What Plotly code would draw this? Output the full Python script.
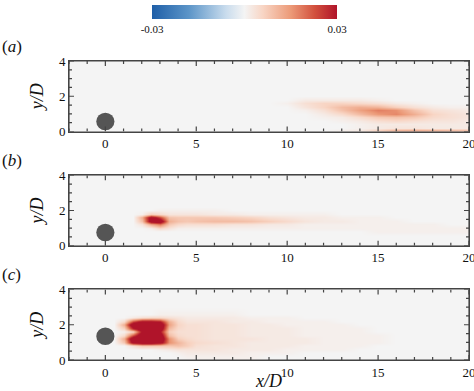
import plotly.graph_objects as go

# grid coordinates (x/D, y/D)
x_grid = [-2, -1, 0, 0.5, 1, 1.5, 2, 2.5, 3, 3.5, 4, 4.5, 5, 6, 7, 8, 9, 10,
          11, 12, 13, 14, 15, 16, 17, 18, 19, 20]
y_grid = [0, 0.2, 0.4, 0.6, 0.8, 1.0, 1.2, 1.4, 1.6, 1.8, 2.0, 2.2, 2.4, 2.6,
          3.0, 3.5, 4.0]

# field values in units of 1e-3 (rows = y_grid, cols = x_grid)
#           -2 -1  0 .5  1 1.5 2 2.5 3 3.5 4 4.5 5  6  7  8  9 10 11 12 13 14 15 16 17 18 19 20
field_a = [
    [0, 0, 0, 0, 0, 0, 0, 0, 0, 0, 0, 0, 0, 0, 0, 0, 0, 0, 0, 0, 2, 3, 10, 18, 20, 19, 17, 15],
    [0, 0, 0, 0, 0, 0, 0, 0, 0, 0, 0, 0, 0, 0, 0, 0, 0, 0, 0, 0, 0, 1, 2, 3, 3, 2, 2, 2],
    [0, 0, 0, 0, 0, 0, 0, 0, 0, 0, 0, 0, 0, 0, 0, 0, 0, 0, 0, 0, 0, 1, 2, 2, 2, 2, 2, 2],
    [0, 0, 0, 0, 0, 0, 0, 0, 0, 0, 0, 0, 0, 0, 0, 0, 0, 0, 0, 0, 1, 2, 4, 5, 4, 3, 3, 2],
    [0, 0, 0, 0, 0, 0, 0, 0, 0, 0, 0, 0, 0, 0, 0, 0, 0, 0, 0, 1, 2, 5, 8, 9, 8, 5, 4, 3],
    [0, 0, 0, 0, 0, 0, 0, 0, 0, 0, 0, 0, 0, 0, 0, 0, 0, 0, 0, 2, 5, 10, 15, 17, 12, 6, 4, 3],
    [0, 0, 0, 0, 0, 0, 0, 0, 0, 0, 0, 0, 0, 0, 0, 0, 0, 0, 1, 4, 9, 14, 18, 16, 9, 4, 3, 2],
    [0, 0, 0, 0, 0, 0, 0, 0, 0, 0, 0, 0, 0, 0, 0, 0, 0, 0, 3, 6, 10, 12, 11, 7, 4, 2, 1, 1],
    [0, 0, 0, 0, 0, 0, 0, 0, 0, 0, 0, 0, 0, 0, 0, 0, 0, 1, 4, 6, 6, 5, 4, 2, 1, 0, 0, 0],
    [0, 0, 0, 0, 0, 0, 0, 0, 0, 0, 0, 0, 0, 0, 0, 0, 0, 0, 2, 2, 2, 2, 1, 0, 0, 0, 0, 0],
    [0, 0, 0, 0, 0, 0, 0, 0, 0, 0, 0, 0, 0, 0, 0, 0, 0, 0, 0, 0, 0, 0, 0, 0, 0, 0, 0, 0],
    [0, 0, 0, 0, 0, 0, 0, 0, 0, 0, 0, 0, 0, 0, 0, 0, 0, 0, 0, 0, 0, 0, 0, 0, 0, 0, 0, 0],
    [0, 0, 0, 0, 0, 0, 0, 0, 0, 0, 0, 0, 0, 0, 0, 0, 0, 0, 0, 0, 0, 0, 0, 0, 0, 0, 0, 0],
    [0, 0, 0, 0, 0, 0, 0, 0, 0, 0, 0, 0, 0, 0, 0, 0, 0, 0, 0, 0, 0, 0, 0, 0, 0, 0, 0, 0],
    [0, 0, 0, 0, 0, 0, 0, 0, 0, 0, 0, 0, 0, 0, 0, 0, 0, 0, 0, 0, 0, 0, 0, 0, 0, 0, 0, 0],
    [0, 0, 0, 0, 0, 0, 0, 0, 0, 0, 0, 0, 0, 0, 0, 0, 0, 0, 0, 0, 0, 0, 0, 0, 0, 0, 0, 0],
    [0, 0, 0, 0, 0, 0, 0, 0, 0, 0, 0, 0, 0, 0, 0, 0, 0, 0, 0, 0, 0, 0, 0, 0, 0, 0, 0, 0],
]

field_b = [
    [0, 0, 0, 0, 0, 0, 0, 0, 0, 0, 0, 0, 0, 0, 0, 0, 0, 0, 0, 0, 0, 0, 0, 0, 0, 0, 0, 0],
    [0, 0, 0, 0, 0, 0, 0, 0, 0, 0, 0, 0, 0, 0, 0, 0, 0, 0, 0, 0, 0, 0, 0, 0, 0, 0, 0, 0],
    [0, 0, 0, 0, 0, 0, 0, 0, 0, 0, 0, 0, 0, 0, 0, 0, 0, 0, 0, 0, 0, 0, 0, 0, 0, 0, 0, 0],
    [0, 0, 0, 0, 0, 0, 0, 0, 0, 0, 0, 0, 0, 0, 0, 0, 0, 0, 0, 0, 0, 0, 0, 0, 0, 0, 0, 0],
    [0, 0, 0, 0, 0, 0, 0, 0, 0, 0, 0, 0, 0, 0, 0, 0, 0, 0, 0, 0, 0, 0, 1, 1, 1, 1, 1, 1],
    [0, 0, 0, 0, 0, 0, 0, 1, 5, 3, 1, 1, 1, 1, 1, 1, 1, 1, 1, 1, 1, 1, 1, 1, 1, 1, 1, 1],
    [0, 0, 0, 0, 0, 0, 3, 12, 18, 8, 5, 4, 4, 4, 3, 3, 2, 2, 1, 1, 1, 1, 1, 1, 1, 1, 0, 0],
    [0, 0, 0, 0, 0, 0, 9, 36, 38, 12, 9, 8, 9, 10, 10, 9, 7, 5, 3, 2, 2, 1, 1, 1, 0, 0, 0, 0],
    [0, 0, 0, 0, 0, 0, 12, 36, 24, 9, 8, 8, 8, 8, 7, 6, 4, 3, 2, 2, 1, 1, 1, 0, 0, 0, 0, 0],
    [0, 0, 0, 0, 0, 0, 1, 7, 5, 3, 3, 3, 3, 2, 2, 1, 1, 1, 1, 1, 0, 0, 0, 0, 0, 0, 0, 0],
    [0, 0, 0, 0, 0, 0, 0, 0, 1, 1, 1, 1, 1, 1, 0, 0, 0, 0, 0, 0, 0, 0, 0, 0, 0, 0, 0, 0],
    [0, 0, 0, 0, 0, 0, 0, 0, 0, 0, 0, 0, 0, 0, 0, 0, 0, 0, 0, 0, 0, 0, 0, 0, 0, 0, 0, 0],
    [0, 0, 0, 0, 0, 0, 0, 0, 0, 0, 0, 0, 0, 0, 0, 0, 0, 0, 0, 0, 0, 0, 0, 0, 0, 0, 0, 0],
    [0, 0, 0, 0, 0, 0, 0, 0, 0, 0, 0, 0, 0, 0, 0, 0, 0, 0, 0, 0, 0, 0, 0, 0, 0, 0, 0, 0],
    [0, 0, 0, 0, 0, 0, 0, 0, 0, 0, 0, 0, 0, 0, 0, 0, 0, 0, 0, 0, 0, 0, 0, 0, 0, 0, 0, 0],
    [0, 0, 0, 0, 0, 0, 0, 0, 0, 0, 0, 0, 0, 0, 0, 0, 0, 0, 0, 0, 0, 0, 0, 0, 0, 0, 0, 0],
    [0, 0, 0, 0, 0, 0, 0, 0, 0, 0, 0, 0, 0, 0, 0, 0, 0, 0, 0, 0, 0, 0, 0, 0, 0, 0, 0, 0],
]

field_c = [
    [0, 0, 0, 0, 0, 0, 0, 0, 0, 0, 0, 0, 1, 1, 1, 1, 0, 0, 0, 0, 0, 0, 0, 0, 0, 0, 0, 0],
    [0, 0, 0, 0, 0, 0, 0, 0, 0, 0, 0, 1, 1, 1, 1, 1, 0, 0, 0, 0, 0, 0, 0, 0, 0, 0, 0, 0],
    [0, 0, 0, 0, 0, 0, 0, 0, 0, 0, 1, 2, 2, 2, 2, 1, 1, 1, 0, 0, 0, 0, 0, 0, 0, 0, 0, 0],
    [0, 0, 0, 0, 0, 0, 0, 0, 1, 2, 3, 3, 3, 3, 2, 2, 2, 1, 1, 1, 1, 0, 0, 0, 0, 0, 0, 0],
    [0, 0, 0, 0, 0, 4, 8, 8, 8, 8, 9, 7, 4, 3, 3, 2, 2, 2, 1, 1, 1, 1, 0, 0, 0, 0, 0, 0],
    [0, 0, 0, 0, 8, 34, 40, 40, 34, 16, 11, 7, 5, 4, 3, 2, 2, 2, 2, 1, 1, 1, 1, 0, 0, 0, 0, 0],
    [0, 0, 0, 0, 12, 40, 40, 40, 40, 16, 7, 5, 4, 3, 3, 3, 2, 2, 2, 1, 1, 1, 1, 0, 0, 0, 0, 0],
    [0, 0, 0, 0, 5, 24, 40, 40, 38, 10, 5, 4, 4, 3, 3, 2, 2, 2, 1, 1, 1, 1, 1, 0, 0, 0, 0, 0],
    [0, 0, 0, 0, 1, 6, 32, 40, 30, 7, 4, 4, 4, 3, 3, 2, 2, 2, 1, 1, 1, 1, 0, 0, 0, 0, 0, 0],
    [0, 0, 0, 0, 6, 28, 40, 40, 38, 10, 5, 4, 4, 3, 3, 2, 2, 2, 1, 1, 1, 1, 0, 0, 0, 0, 0, 0],
    [0, 0, 0, 0, 12, 40, 40, 40, 40, 14, 6, 4, 4, 3, 3, 2, 2, 1, 1, 1, 1, 0, 0, 0, 0, 0, 0, 0],
    [0, 0, 0, 0, 5, 24, 34, 34, 30, 12, 5, 3, 3, 3, 2, 2, 1, 1, 1, 1, 0, 0, 0, 0, 0, 0, 0, 0],
    [0, 0, 0, 0, 0, 2, 4, 5, 5, 4, 3, 2, 2, 2, 2, 1, 1, 1, 0, 0, 0, 0, 0, 0, 0, 0, 0, 0],
    [0, 0, 0, 0, 0, 0, 0, 0, 1, 1, 1, 1, 1, 1, 1, 0, 0, 0, 0, 0, 0, 0, 0, 0, 0, 0, 0, 0],
    [0, 0, 0, 0, 0, 0, 0, 0, 0, 0, 0, 0, 0, 0, 0, 0, 0, 0, 0, 0, 0, 0, 0, 0, 0, 0, 0, 0],
    [0, 0, 0, 0, 0, 0, 0, 0, 0, 0, 0, 0, 0, 0, 0, 0, 0, 0, 0, 0, 0, 0, 0, 0, 0, 0, 0, 0],
    [0, 0, 0, 0, 0, 0, 0, 0, 0, 0, 0, 0, 0, 0, 0, 0, 0, 0, 0, 0, 0, 0, 0, 0, 0, 0, 0, 0],
]

panel_labels = ["(<i>a</i>)", "(<i>b</i>)", "(<i>c</i>)"]
cylinder_x = [0, 0, 0]
cylinder_y = [0.57, 0.75, 1.35]
cylinder_d = 1.0
x_ticks = [0, 5, 10, 15, 20]
y_ticks = [0, 2, 4]
x_range = [-2, 20]
y_range = [0, 4]
x_minor_step = 1
y_minor_step = 0.5
cbar_ticks = [-0.03, 0.03]
cbar_labels = ["-0.03", "0.03"]

SCALE = 1e-3
fields = [field_a, field_b, field_c]

colorscale = [
    [0.0, "#1f5fa8"],
    [0.2, "#5c95c8"],
    [0.4, "#c9dced"],
    [0.5, "#f4f4f4"],
    [0.6, "#f8d5c4"],
    [0.75, "#ec9a78"],
    [0.88, "#d2503d"],
    [1.0, "#b0142a"],
]

FONT = "Liberation Serif, DejaVu Serif, serif"
W, H = 474, 391
M = dict(l=69, r=5, t=59, b=31)
domains = [[0.7641, 1.0], [0.3821, 0.6179], [0.0, 0.2359]]
label_y = [1.05, 0.668, 0.286]
LINE = "#444444"
MAJOR_LEN, MINOR_LEN, LINE_W = 5, 3, 1.2  # pixels

# pixel -> data unit conversion for each panel (for the frame/tick bars)
plot_w_px = W - M["l"] - M["r"]
plot_h_px = H - M["t"] - M["b"]
ux = (x_range[1] - x_range[0]) / plot_w_px


def steps(lo, hi, step):
    n = int(round((hi - lo) / step))
    return [lo + k * step for k in range(n + 1)]


x_minor = [v for v in steps(x_range[0], x_range[1], x_minor_step) if v not in x_ticks]
y_minor = [v for v in steps(y_range[0], y_range[1], y_minor_step) if v not in y_ticks]

fig = go.Figure()
layout_axes = {}
shapes = []


def bar(xr, yr, x0, x1, y0, y1):
    shapes.append(dict(type="rect", xref=xr, yref=yr, x0=x0, x1=x1, y0=y0, y1=y1,
                       fillcolor=LINE, line=dict(width=0), layer="above"))


for i, f in enumerate(fields):
    ax = "" if i == 0 else str(i + 1)
    xr, yr = "x" + ax, "y" + ax
    uy = (y_range[1] - y_range[0]) / (plot_h_px * (domains[i][1] - domains[i][0]))
    fig.add_trace(go.Heatmap(
        x=x_grid, y=y_grid,
        z=[[v * SCALE for v in row] for row in f],
        coloraxis="coloraxis", zsmooth="best",
        xaxis=xr, yaxis=yr, hoverinfo="skip",
    ))
    common = dict(
        showline=True, linecolor=LINE, linewidth=1, mirror=True,
        ticks="", showgrid=False, zeroline=False,
        tickfont=dict(family=FONT, size=13, color="#111111"),
        ticklabeloverflow="allow",
    )
    layout_axes["xaxis" + ax] = dict(
        common, range=x_range, tickvals=x_ticks, anchor=yr, ticklabelstandoff=0,
    )
    layout_axes["yaxis" + ax] = dict(
        common, range=y_range, tickvals=y_ticks, anchor=xr, domain=domains[i],
        title=dict(text="<i>y/D</i>", font=dict(family=FONT, size=18, color="#111111"),
                   standoff=10),
    )
    shapes.append(dict(
        type="circle", xref=xr, yref=yr,
        x0=cylinder_x[i] - cylinder_d / 2, x1=cylinder_x[i] + cylinder_d / 2,
        y0=cylinder_y[i] - cylinder_d / 2, y1=cylinder_y[i] + cylinder_d / 2,
        fillcolor="#555555", line=dict(width=0), layer="above",
    ))
    hx, hy = LINE_W * ux / 2, LINE_W * uy / 2
    # frame as filled bars in data coordinates
    for yv in y_range:
        bar(xr, yr, x_range[0], x_range[1], yv - hy, yv + hy)
    for xv in x_range:
        bar(xr, yr, xv - hx, xv + hx, y_range[0], y_range[1])
    # tick marks (inside, mirrored)
    for vals, ln in ((x_ticks, MAJOR_LEN), (x_minor, MINOR_LEN)):
        for v in vals:
            bar(xr, yr, v - hx, v + hx, y_range[0], y_range[0] + ln * uy)
            bar(xr, yr, v - hx, v + hx, y_range[1] - ln * uy, y_range[1])
    for vals, ln in ((y_ticks, MAJOR_LEN), (y_minor, MINOR_LEN)):
        for v in vals:
            bar(xr, yr, x_range[0], x_range[0] + ln * ux, v - hy, v + hy)
            bar(xr, yr, x_range[1] - ln * ux, x_range[1], v - hy, v + hy)
    fig.add_annotation(
        text=panel_labels[i], xref="paper", yref="paper", x=-0.1725, y=label_y[i],
        xanchor="left", yanchor="middle", showarrow=False,
        font=dict(family=FONT, size=17, color="#111111"),
    )

layout_axes["xaxis3"]["title"] = dict(
    text="<i>x/D</i>", font=dict(family=FONT, size=18, color="#111111"), standoff=4)

fig.update_layout(template="none")
fig.update_layout(**layout_axes)
fig.update_layout(
    width=W, height=H,
    margin=M,
    paper_bgcolor="white", plot_bgcolor="white",
    showlegend=False,
    shapes=shapes,
    font=dict(family=FONT, color="#111111"),
    coloraxis=dict(
        colorscale=colorscale, cmin=-0.03, cmax=0.03,
        colorbar=dict(
            orientation="h", x=0.439, xanchor="center", y=1.186, yanchor="top",
            lenmode="pixels", len=185, thickness=14, ypad=0, xpad=0,
            tickvals=cbar_ticks, ticktext=cbar_labels, ticks="",
            outlinewidth=0,
            tickfont=dict(family=FONT, size=11, color="#111111"),
        ),
    ),
)

fig.write_html("out.html", config={"displayModeBar": False},
               post_script="document.body.style.margin='0';document.body.style.overflow='hidden';")
